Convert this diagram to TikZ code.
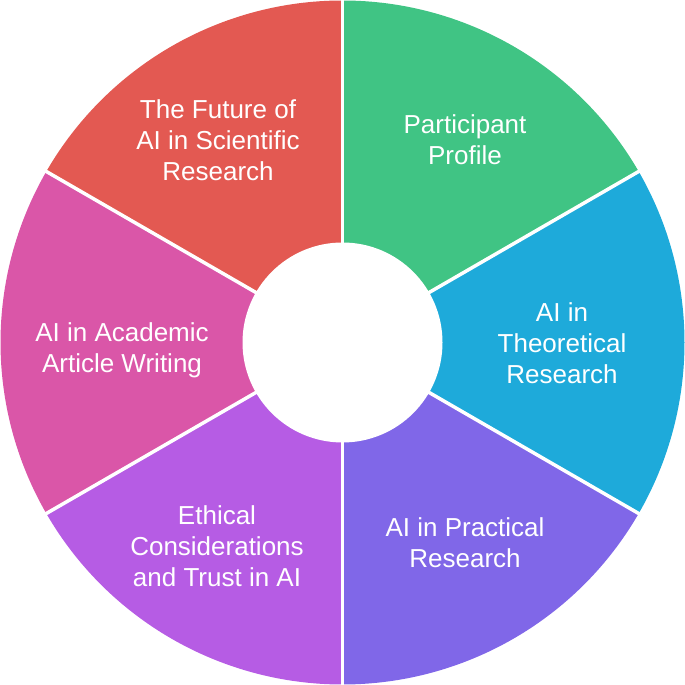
\documentclass[tikz,border=0pt]{standalone}
\usepackage{fontspec}
\setmainfont{Liberation Sans}
\definecolor{cRed}{RGB}{227,89,82}
\definecolor{cGreen}{RGB}{64,196,132}
\definecolor{cBlue}{RGB}{30,170,218}
\definecolor{cViolet}{RGB}{128,103,232}
\definecolor{cPurple}{RGB}{182,92,228}
\definecolor{cPink}{RGB}{218,86,168}
\tikzset{
  lbl/.style={text=white, align=center, inner sep=0pt, font=\fontsize{26}{31}\selectfont},
  gap/.style={white, line width=3.5pt}
}
\begin{document}
\begin{tikzpicture}[x=1pt,y=1pt]
\useasboundingbox (0,0) rectangle (685,685);
\coordinate (c) at (342.5,342.5);
\fill[cGreen]  (c) -- ++(90:342)  arc[start angle=90,  end angle=30,   radius=342] -- cycle;
\fill[cBlue]   (c) -- ++(30:342)  arc[start angle=30,  end angle=-30,  radius=342] -- cycle;
\fill[cViolet] (c) -- ++(-30:342) arc[start angle=-30, end angle=-90,  radius=342] -- cycle;
\fill[cPurple] (c) -- ++(-90:342) arc[start angle=-90, end angle=-150, radius=342] -- cycle;
\fill[cPink]   (c) -- ++(210:342) arc[start angle=210, end angle=150,  radius=342] -- cycle;
\fill[cRed]    (c) -- ++(150:342) arc[start angle=150, end angle=90,   radius=342] -- cycle;
\foreach \a in {30,90,150,210,270,330} \draw[gap] (c) -- ++(\a:346);
\fill[white] (c) circle (100);
\node[lbl] (pp) at (465,545) {Participant\\Profile};
\node[lbl] (tr) at (562,342) {AI in\\Theoretical\\Research};
\node[lbl] (pr) at (465,142) {AI in Practical\\Research};
\node[lbl] (et) at (217,139) {Ethical\\Considerations\\and Trust in AI};
\node[lbl] (aw) at (122,335) {AI in Academic\\Article Writing};
\node[lbl] (fu) at (218,545) {The Future of\\AI in Scientific\\Research};
\end{tikzpicture}
\end{document}
